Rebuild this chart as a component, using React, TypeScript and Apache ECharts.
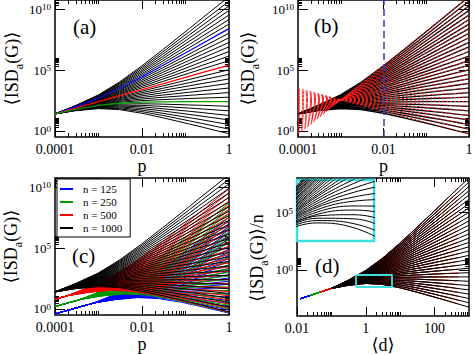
import React, { useEffect, useRef } from "react";
import * as echarts from "echarts";

// ---------- data ----------
// exponent parameter a of every curve
const aValues = [
  -1.875, -1.75, -1.625, -1.5, -1.375, -1.25, -1.125, -1, -0.875, -0.75, -0.625,
  -0.5, -0.375, -0.25, -0.125, 0, 0.125, 0.25, 0.375, 0.5, 0.625, 0.75, 0.875,
  1, 1.125, 1.25, 1.375, 1.5, 1.625, 1.75, 1.875,
];
const nValues = [125, 250, 500, 1000];
const nLabels = ["n = 125", "n = 250", "n = 500", "n = 1000"];
const nColors = ["#0000ff", "#009a00", "#ff0000", "#000000"];

// common low-degree stem: <d> and log10(<ISD_a(G)>/n)
const stemD = [0.0125, 0.025, 0.05, 0.1];
const stemLogG = [-2.505, -2.204, -1.903, -1.602];

// <d> grid and log10(<ISD_a(G)>/n) for each curve (one row per <d>)
const curveD = [0.3, 1, 3, 10, 30, 125, 250, 500, 1000];
const curveLogG = [
  [-1.34, -1.32, -1.31, -1.3, -1.28, -1.27, -1.25, -1.24, -1.22, -1.21, -1.2, -1.18, -1.17, -1.15, -1.14, -1.12, -1.11, -1.1, -1.08, -1.07, -1.05, -1.04, -1.03, -1.01, -1.0, -0.98, -0.97, -0.95, -0.94, -0.93, -0.91],
  [-1.17, -1.13, -1.09, -1.05, -1.02, -0.98, -0.94, -0.9, -0.87, -0.83, -0.79, -0.75, -0.71, -0.68, -0.64, -0.6, -0.56, -0.53, -0.49, -0.45, -0.41, -0.38, -0.34, -0.3, -0.26, -0.23, -0.19, -0.15, -0.11, -0.08, -0.04],
  [-1.25, -1.18, -1.1, -1.03, -0.95, -0.88, -0.8, -0.73, -0.65, -0.58, -0.5, -0.43, -0.35, -0.28, -0.2, -0.12, -0.05, 0.03, 0.1, 0.18, 0.25, 0.33, 0.4, 0.48, 0.55, 0.63, 0.7, 0.78, 0.85, 0.93, 1.0],
  [-1.55, -1.42, -1.29, -1.16, -1.03, -0.9, -0.77, -0.64, -0.51, -0.38, -0.25, -0.12, 0.01, 0.14, 0.27, 0.4, 0.53, 0.66, 0.79, 0.92, 1.05, 1.18, 1.31, 1.44, 1.57, 1.7, 1.83, 1.96, 2.09, 2.22, 2.35],
  [-1.92, -1.73, -1.55, -1.36, -1.18, -0.99, -0.8, -0.62, -0.43, -0.24, -0.06, 0.13, 0.32, 0.5, 0.69, 0.87, 1.06, 1.25, 1.43, 1.62, 1.81, 1.99, 2.18, 2.37, 2.55, 2.74, 2.93, 3.11, 3.3, 3.48, 3.67],
  [-2.44, -2.18, -1.92, -1.65, -1.39, -1.13, -0.87, -0.6, -0.34, -0.08, 0.18, 0.45, 0.71, 0.97, 1.23, 1.5, 1.76, 2.02, 2.28, 2.55, 2.81, 3.07, 3.33, 3.6, 3.86, 4.12, 4.38, 4.65, 4.91, 5.17, 5.43],
  [-2.7, -2.4, -2.1, -1.8, -1.5, -1.2, -0.9, -0.6, -0.3, 0.0, 0.3, 0.6, 0.9, 1.2, 1.5, 1.8, 2.1, 2.4, 2.7, 3.0, 3.3, 3.6, 3.9, 4.2, 4.5, 4.8, 5.1, 5.4, 5.7, 6.0, 6.3],
  [-2.97, -2.63, -2.29, -1.95, -1.62, -1.28, -0.94, -0.6, -0.27, 0.07, 0.41, 0.75, 1.08, 1.42, 1.76, 2.1, 2.43, 2.77, 3.11, 3.45, 3.78, 4.12, 4.46, 4.8, 5.13, 5.47, 5.81, 6.15, 6.48, 6.82, 7.16],
  [-3.23, -2.85, -2.48, -2.1, -1.73, -1.35, -0.98, -0.6, -0.23, 0.15, 0.52, 0.9, 1.27, 1.65, 2.02, 2.4, 2.77, 3.15, 3.52, 3.9, 4.27, 4.65, 5.02, 5.4, 5.77, 6.15, 6.52, 6.9, 7.27, 7.65, 8.02],
];

// panel (b): red dashed asymptotes, log10 <ISD> at p = 0.0001 and at p = 1
const dashLogAtPmin = [3.48, 3.35, 3.23, 3.1, 2.98, 2.85, 2.73, 2.6, 2.48, 2.35, 2.23, 2.1, 1.98, 1.85, 1.73, 1.6, 1.48, 1.35, 1.23, 1.1, 0.98, 0.85, 0.73, 0.6, 0.48, 0.35, 0.23, 0.1, -0.02, -0.15, -0.27];
const dashLogAtPmax = [-0.23, 0.15, 0.52, 0.9, 1.27, 1.65, 2.02, 2.4, 2.77, 3.15, 3.52, 3.9, 4.27, 4.65, 5.02, 5.4, 5.77, 6.15, 6.52, 6.9, 7.27, 7.65, 8.02, 8.4, 8.77, 9.15, 9.52, 9.9, 10.27, 10.65, 11.02];
const dashP = [0.0001, 1];
const blueLineP = 0.01;

// panel (a) highlighted curves
const highlightA = [1, 0, -1];
const highlightColors = ["#0000ff", "#ff0000", "#009a00"];

// axes
const pRange = [0.0001, 1];
const pMajor = [0.0001, 0.01, 1];
const pMajorLabels = ["0.0001", "0.01", "1"];
const pMinor = [0.0002, 0.0003, 0.0004, 0.0005, 0.0006, 0.0007, 0.0008, 0.0009, 0.001, 0.02, 0.03, 0.04, 0.05, 0.06, 0.07, 0.08, 0.09, 0.1];
const isdRange = [0.3162, 5.62e10];
const isdMajor = [1, 1e5, 1e10];
const isdMajorExp = ["0", "5", "10"];
const isdMinor = [2, 3, 4, 5, 6, 7, 8, 9, 10, 2e5, 3e5, 4e5, 5e5, 6e5, 7e5, 8e5, 9e5, 1e6, 2e10, 3e10, 4e10, 5e10];
const dRange = [0.01, 1000];
const dMajor = [0.01, 1, 100];
const dMajorLabels = ["0.01", "1", "100"];
const dMinor = [0.02, 0.03, 0.04, 0.05, 0.06, 0.07, 0.08, 0.09, 0.1, 2, 3, 4, 5, 6, 7, 8, 9, 10, 200, 300, 400, 500, 600, 700, 800, 900];
const gRange = [0.0001, 1e8];
const gMajor = [1, 1e5];
const gMajorExp = ["0", "5"];
const gMinor = [2, 3, 4, 5, 6, 7, 8, 9, 10, 2e5, 3e5, 4e5, 5e5, 6e5, 7e5, 8e5, 9e5, 1e6];
const insetDRange = [0.52, 5.78];
const insetGRange = [0.0331, 0.367];

const FONT = "'Liberation Serif', 'DejaVu Serif', 'Times New Roman', serif";
const CYAN = "#3fdede";

function curvePoints(k: number, n: number) {
  const lo = n * 0.0001 * 0.999;
  const hi = n * 1.001;
  const pts: number[][] = [];
  stemD.forEach((d, j) => {
    if (d >= lo && d <= hi) pts.push([d, stemLogG[j]]);
  });
  curveD.forEach((d, j) => {
    if (d >= lo && d <= hi) pts.push([d, curveLogG[j][k]]);
  });
  return pts;
}

function idxOf(list: number[], v: number) {
  return list.findIndex((t) => Math.abs(Math.log10(t / v)) < 1e-6);
}

function buildOption() {
  const gridBoxes = [
    { left: 55, top: 0, width: 174, height: 137 },
    { left: 298, top: 0, width: 171, height: 137 },
    { left: 55, top: 178, width: 174, height: 137 },
    { left: 297, top: 178, width: 172, height: 138 },
  ];
  const grid: any[] = gridBoxes.map((g) => ({
    ...g,
    show: true,
    borderColor: "#000",
    borderWidth: 1.5,
    backgroundColor: "transparent",
    containLabel: false,
    outerBoundsMode: "none",
  }));
  grid.push({
    left: 297, top: 180, width: 77, height: 61, show: true,
    borderColor: CYAN, borderWidth: 2.5, backgroundColor: "#fff",
    containLabel: false, outerBoundsMode: "none", z: 3,
  });

  const xAxis: any[] = [];
  const yAxis: any[] = [];
  const tickStyle = { color: "#000", width: 1 };
  const nameStyle = (size: number, pad: number[] = [0, 0, 0, 0]) => ({
    fontFamily: FONT, color: "#000", fontSize: size, padding: pad,
    rich: {
      t: { fontFamily: FONT, fontSize: size, color: "#000", verticalAlign: "bottom", lineHeight: size },
      sub: { fontFamily: FONT, fontSize: 12, color: "#000", verticalAlign: "bottom", lineHeight: 12, padding: [0, 0, -4, 0] },
    },
  });

  function addX(gi: number, range: number[], major: number[], labels: string[], minor: number[], name: string, nameGap: number) {
    const base = {
      type: "log", logBase: 10, gridIndex: gi, min: range[0] * 0.9999, max: range[1] * 1.0001,
      splitLine: { show: false }, axisLine: { show: false }, silent: true,
    };
    const idx = xAxis.length;
    xAxis.push({
      ...base, position: "bottom",
      axisTick: { show: true, inside: true, length: 9, customValues: major, lineStyle: tickStyle },
      axisLabel: {
        show: true, customValues: major, margin: 5, fontSize: 14, fontFamily: FONT, color: "#000",
        formatter: (v: number) => labels[idxOf(major, v)] ?? "",
      },
      name, nameLocation: "middle", nameGap, nameTextStyle: nameStyle(18),
    });
    xAxis.push({ ...base, position: "bottom", axisTick: { show: true, inside: true, length: 4, customValues: minor, lineStyle: tickStyle }, axisLabel: { show: false } });
    xAxis.push({ ...base, position: "top", axisTick: { show: true, inside: true, length: 9, customValues: major, lineStyle: tickStyle }, axisLabel: { show: false } });
    xAxis.push({ ...base, position: "top", axisTick: { show: true, inside: true, length: 4, customValues: minor, lineStyle: tickStyle }, axisLabel: { show: false } });
    return idx;
  }

  function addY(gi: number, range: number[], major: number[], exps: string[], minor: number[], name: string, nameGap: number, pad: number[] = [0, 0, 0, 0]) {
    const base = {
      type: "log", logBase: 10, gridIndex: gi, min: range[0] * 0.9999, max: range[1] * 1.0001,
      splitLine: { show: false }, axisLine: { show: false }, silent: true,
    };
    const idx = yAxis.length;
    yAxis.push({
      ...base, position: "left",
      axisTick: { show: true, inside: true, length: 10, customValues: major, lineStyle: tickStyle },
      axisLabel: {
        show: true, customValues: major, margin: 4, fontFamily: FONT, color: "#000", fontSize: 13,
        formatter: (v: number) => `{b|10}{sup|${exps[idxOf(major, v)] ?? ""}}`,
        rich: {
          b: { fontFamily: FONT, fontSize: 13, color: "#000", verticalAlign: "bottom", lineHeight: 13 },
          sup: { fontFamily: FONT, fontSize: 9, color: "#000", verticalAlign: "top", lineHeight: 9, padding: [0, 0, 7, 0] },
        },
      },
      name, nameLocation: "middle", nameRotate: 90, nameGap, nameTextStyle: nameStyle(18, pad),
    });
    yAxis.push({ ...base, position: "left", axisTick: { show: true, inside: true, length: 4, customValues: minor, lineStyle: tickStyle }, axisLabel: { show: false } });
    yAxis.push({ ...base, position: "right", axisTick: { show: true, inside: true, length: 10, customValues: major, lineStyle: tickStyle }, axisLabel: { show: false } });
    yAxis.push({ ...base, position: "right", axisTick: { show: true, inside: true, length: 4, customValues: minor, lineStyle: tickStyle }, axisLabel: { show: false } });
    return idx;
  }

  const yName = "{t|⟨ISD}{sub|a}{t|(G)⟩}";
  const xa = addX(0, pRange, pMajor, pMajorLabels, pMinor, "p", 11);
  const ya = addY(0, isdRange, isdMajor, isdMajorExp, isdMinor, yName, 34);
  const xb = addX(1, pRange, pMajor, pMajorLabels, pMinor, "p", 11);
  const yb = addY(1, isdRange, isdMajor, isdMajorExp, isdMinor, yName, 41);
  const xc = addX(2, pRange, pMajor, pMajorLabels, pMinor, "p", 11);
  const yc = addY(2, isdRange, isdMajor, isdMajorExp, isdMinor, yName, 35);
  const xd = addX(3, dRange, dMajor, dMajorLabels, dMinor, "{t|⟨d⟩}", 7);
  const yd = addY(3, gRange, gMajor, gMajorExp, gMinor, "{t|⟨ISD}{sub|a}{t|(G)⟩/n}", 31, [0, 22, 0, 0]);
  const xi = xAxis.length;
  xAxis.push({ type: "log", logBase: 10, gridIndex: 4, min: insetDRange[0], max: insetDRange[1], show: false });
  const yi = yAxis.length;
  yAxis.push({ type: "log", logBase: 10, gridIndex: 4, min: insetGRange[0], max: insetGRange[1], show: false });

  const series: any[] = [];
  const line = (data: number[][], xIdx: number, yIdx: number, color: string, extra: any = {}) => ({
    type: "line", data, xAxisIndex: xIdx, yAxisIndex: yIdx, showSymbol: false, symbol: "none",
    silent: true, animation: false, clip: true,
    itemStyle: { color }, lineStyle: { color, width: 1 }, ...extra,
  });
  const toP = (pts: number[][], n: number) => pts.map(([d, lg]) => [d / n, n * Math.pow(10, lg)]);
  const toD = (pts: number[][]) => pts.map(([d, lg]) => [d, Math.pow(10, lg)]);

  // (a)
  aValues.forEach((a, k) => {
    if (highlightA.includes(a)) return;
    series.push(line(toP(curvePoints(k, 1000), 1000), xa, ya, "#000", { name: "a" + k }));
  });
  highlightA.forEach((a, h) => {
    const k = aValues.indexOf(a);
    series.push(line(toP(curvePoints(k, 1000), 1000), xa, ya, highlightColors[h], { name: "ah" + k, lineStyle: { color: highlightColors[h], width: 1.3 } }));
  });

  // (b)
  aValues.forEach((a, k) => {
    series.push(line(toP(curvePoints(k, 1000), 1000), xb, yb, "#000", { name: "b" + k, lineStyle: { color: "#000", width: 1.3 } }));
  });
  aValues.forEach((a, k) => {
    const data = [
      [dashP[0], Math.pow(10, dashLogAtPmin[k])],
      [dashP[1], Math.pow(10, dashLogAtPmax[k])],
    ];
    series.push(line(data, xb, yb, "#ff1a1a", { name: "br" + k, lineStyle: { color: "#ff1a1a", width: 1, type: [2, 2] } }));
  });
  series.push({
    type: "line", name: "pline", data: [], xAxisIndex: xb, yAxisIndex: yb, silent: true, animation: false,
    markLine: {
      silent: true, symbol: ["none", "none"], label: { show: false }, animation: false,
      lineStyle: { color: "#3535d5", type: [7, 4], width: 1.5 },
      data: [{ xAxis: blueLineP }],
    },
  });

  // (c) and (d)
  nValues.forEach((n, ni) => {
    aValues.forEach((a, k) => {
      series.push(line(toP(curvePoints(k, n), n), xc, yc, nColors[ni], { name: nLabels[ni] }));
    });
  });
  nValues.forEach((n, ni) => {
    aValues.forEach((a, k) => {
      series.push(line(toD(curvePoints(k, n)), xd, yd, nColors[ni], { name: "d" + n + "_" + k }));
    });
  });
  // cyan box marking the zoomed region in (d)
  series.push(line([
    [insetDRange[0], insetGRange[0]], [insetDRange[1], insetGRange[0]],
    [insetDRange[1], insetGRange[1]], [insetDRange[0], insetGRange[1]],
    [insetDRange[0], insetGRange[0]],
  ], xd, yd, CYAN, { name: "box", lineStyle: { color: CYAN, width: 1.8 } }));
  // inset
  aValues.forEach((a, k) => {
    series.push(line(toD(curvePoints(k, 1000)), xi, yi, "#000", { name: "in" + k, z: 4, smooth: 0.4 }));
  });

  const panelLabel = (text: string, left: number, top: number) => ({
    text, left, top, padding: 0,
    textStyle: { fontFamily: FONT, fontSize: 21, fontWeight: "normal", color: "#000" },
  });

  return {
    animation: false,
    backgroundColor: "#fff",
    title: [
      panelLabel("(a)", 73, 16),
      panelLabel("(b)", 314, 15),
      panelLabel("(c)", 72, 245),
      panelLabel("(d)", 315, 255),
    ],
    legend: {
      data: nLabels,
      left: 57, top: 179, orient: "vertical",
      icon: "rect", itemWidth: 13, itemHeight: 2, itemGap: 1,
      backgroundColor: "#fff", borderColor: "#000", borderWidth: 1,
      padding: [4, 8, 3, 3],
      selectedMode: false,
      textStyle: { fontFamily: FONT, fontSize: 11, color: "#000", padding: [0, 0, 0, 5], lineHeight: 12 },
    },
    grid, xAxis, yAxis, series,
  };
}

export default function App() {
  const ref = useRef<HTMLDivElement>(null);
  useEffect(() => {
    const chart = echarts.init(ref.current!, null, { renderer: "svg" });
    chart.setOption(buildOption() as any);
    return () => chart.dispose();
  }, []);
  return (
    <div
      ref={ref}
      style={{ position: "fixed", left: 0, top: 0, width: 474, height: 355, background: "#fff" }}
    />
  );
}
